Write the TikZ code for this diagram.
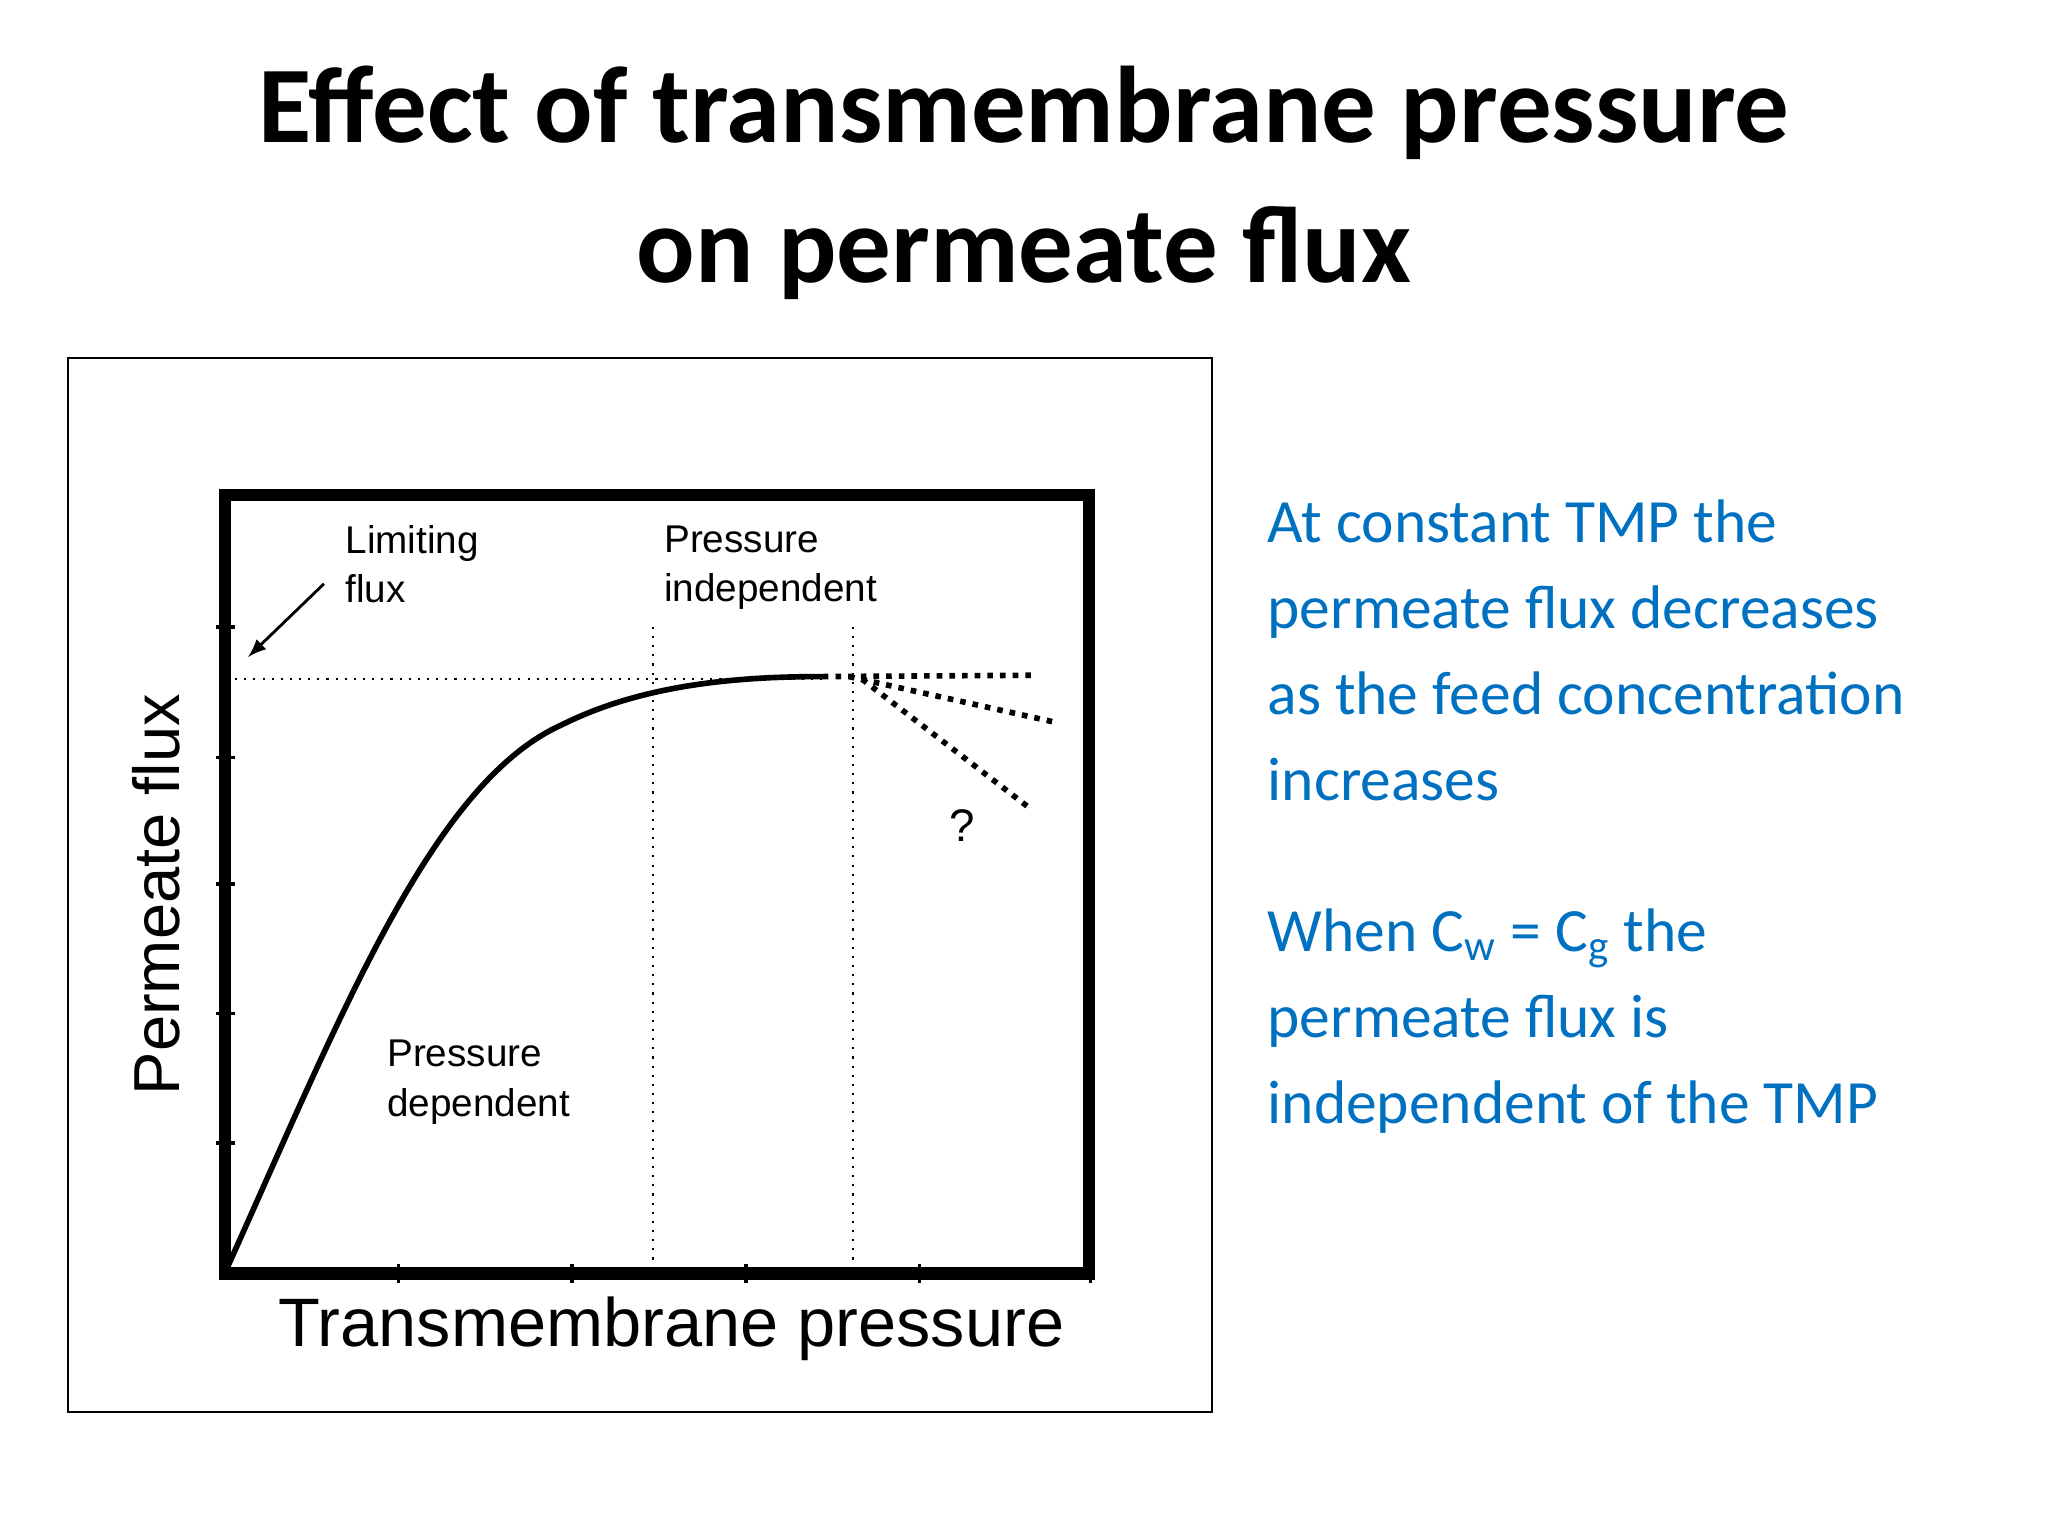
\documentclass[tikz,border=0pt]{standalone}
\usepackage{fontspec}
\setmainfont{Carlito}
\newfontfamily\arial{Liberation Sans}
\definecolor{blu}{RGB}{0,112,192}
\begin{document}
\begin{tikzpicture}[x=0.01306cm,y=-0.01306cm,
  lbl/.style={font=\arial\fontsize{11}{14}\selectfont,align=left,anchor=north west,inner sep=0},
  btxt/.style={text=blu,font=\fontsize{17.5}{24.5}\selectfont,align=left,anchor=north west,inner sep=0},
  dots/.style={dotted,line width=0.6pt},
  bigdots/.style={dotted,line width=1.6pt}]
\useasboundingbox (0,0) rectangle (1568,1176);
\node[font=\bfseries\fontsize{31}{40}\selectfont,align=center] (title) at (784,140) {Effect of transmembrane pressure\\on permeate flux};
\draw[line width=0.6pt] (52,274) rectangle (928,1081);
\coordinate (o) at (172,975);
\foreach \y in {480,580,677,776,875} \draw[line width=1pt] (165,\y) -- (180,\y);
\foreach \x in {305,438,571,704,835} \draw[line width=1pt] (\x,968) -- (\x,982);
\draw[dots] (180,520) -- (630,520);
\draw[dots] (500,480) -- (500,970);
\draw[dots] (653,480) -- (653,970);
\draw[line width=1.6pt] (o) .. controls (260,780) and (330,600) .. (430,555) .. controls (490,525) and (560,518) .. (630,518) coordinate (k);
\draw[bigdots] (k) -- (790,517);
\draw[bigdots] (650,518) -- (808,553);
\draw[bigdots] (660,520) -- (790,620);
\draw[line width=3.5pt] (172,379) rectangle (834,975);
\coordinate (a1) at (248,447); \coordinate (a2) at (190,503);
\draw[-latex,line width=0.8pt] (a1) -- (a2);
\node[lbl] (l1) at (264,402) {Limiting\\flux};
\node[lbl] (l2) at (508,402) {Pressure\\independent};
\node[lbl] (l3) at (296,796) {Pressure\\dependent};
\node[font=\arial\fontsize{13}{16}\selectfont] (q) at (737,632) {?};
\node[font=\arial\fontsize{18.5}{22}\selectfont,rotate=90] (yl) at (120,685) {Permeate flux};
\node[font=\arial\fontsize{19.5}{24}\selectfont] (xl) at (514,1017) {Transmembrane pressure};
\node[btxt] (t1) at (970,382) {At constant TMP the\\permeate flux decreases\\as the feed concentration\\increases};
\node[btxt] (t2) at (970,695) {When C\textsubscript{w} = C\textsubscript{g} the\\permeate flux is\\independent of the TMP};
\end{tikzpicture}
\end{document}
